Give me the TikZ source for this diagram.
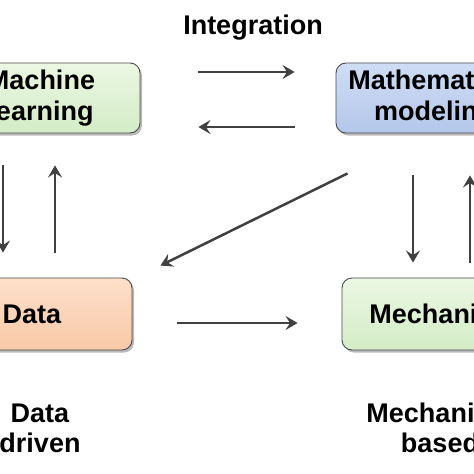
\documentclass[tikz,border=0pt]{standalone}
\usepackage{fontspec}
\setmainfont{Liberation Sans}
\usetikzlibrary{arrows.meta,shadows}
\definecolor{arrgray}{HTML}{404040}
\definecolor{bordergray}{HTML}{4A4A4A}
\definecolor{greenTop}{HTML}{EBF7E3}
\definecolor{greenBot}{HTML}{D3ECC6}
\definecolor{blueTop}{HTML}{CFDCF4}
\definecolor{blueBot}{HTML}{B4C7EB}
\definecolor{peachTop}{HTML}{FDDFC9}
\definecolor{peachBot}{HTML}{F8C9A8}
\tikzset{
  box/.style={draw=bordergray, line width=0.9pt, rounded corners=10pt,
    align=center, font=\fontsize{27}{31}\selectfont\bfseries,
    drop shadow={shadow xshift=2pt, shadow yshift=-2.5pt, fill=black!45, opacity=0.6}},
  lbl/.style={align=center, font=\fontsize{27}{30}\selectfont\bfseries},
  arr/.style={draw=arrgray, line width=2.5pt,
    -{Stealth[length=12pt,width=14pt,inset=4.5pt]}}
}
\begin{document}
\begin{tikzpicture}[x=1pt,y=-1pt]
\useasboundingbox (0,0) rectangle (474,474);
\fill[white] (0,0) rectangle (474,474);
\clip (0,0) rectangle (474,474);

\node[box, minimum width=198pt, minimum height=70pt, top color=greenTop, bottom color=greenBot] (ml) at (41,98) {Machine\\learning};
\node[box, minimum width=196pt, minimum height=70pt, top color=blueTop, bottom color=blueBot] (math) at (434,98) {Mathematical\\modeling};
\node[box, minimum width=200pt, minimum height=72pt, top color=peachTop, bottom color=peachBot] (data) at (32,314) {Data};
\node[box, minimum width=202pt, minimum height=72pt, top color=greenTop, bottom color=greenBot] (mech) at (443,314) {Mechanism};

\node[lbl, anchor=base] (integ) at (253,34) {Integration};
\node[lbl] (dd) at (40,428) {Data\\driven};
\node[lbl] (mb) at (440,428) {Mechanism\\based};

% horizontal top
\draw[arr, shorten <=58pt, shorten >=41pt] ([yshift=26pt]ml.east) -- ([yshift=26pt]math.west);
\draw[arr, shorten <=41pt, shorten >=58pt] ([yshift=-29pt]math.west) -- ([yshift=-29pt]ml.east);
% left verticals
\draw[arr, shorten <=32pt, shorten >=25pt] ([xshift=-38pt]ml.south) -- ([xshift=-38pt]ml.south |- data.north);
\draw[arr, shorten <=25pt, shorten >=32pt] ([xshift=14pt]ml.south |- data.north) -- ([xshift=14pt]ml.south);
% right verticals
\draw[arr, shorten <=42pt, shorten >=15pt] ([xshift=-21pt]math.south) -- ([xshift=-21pt]math.south |- mech.north);
\draw[arr, shorten <=15pt, shorten >=42pt] ([xshift=36pt]math.south |- mech.north) -- ([xshift=36pt]math.south);
% diagonal
\draw[arr] ([shift={(12,40)}]math.south west) -- ([shift={(28,-12)}]data.north east);
% bottom
\draw[arr, shorten <=45pt, shorten >=44pt] ([yshift=-9pt]data.east) -- ([yshift=-9pt]data.east -| mech.west);
\end{tikzpicture}
\end{document}
